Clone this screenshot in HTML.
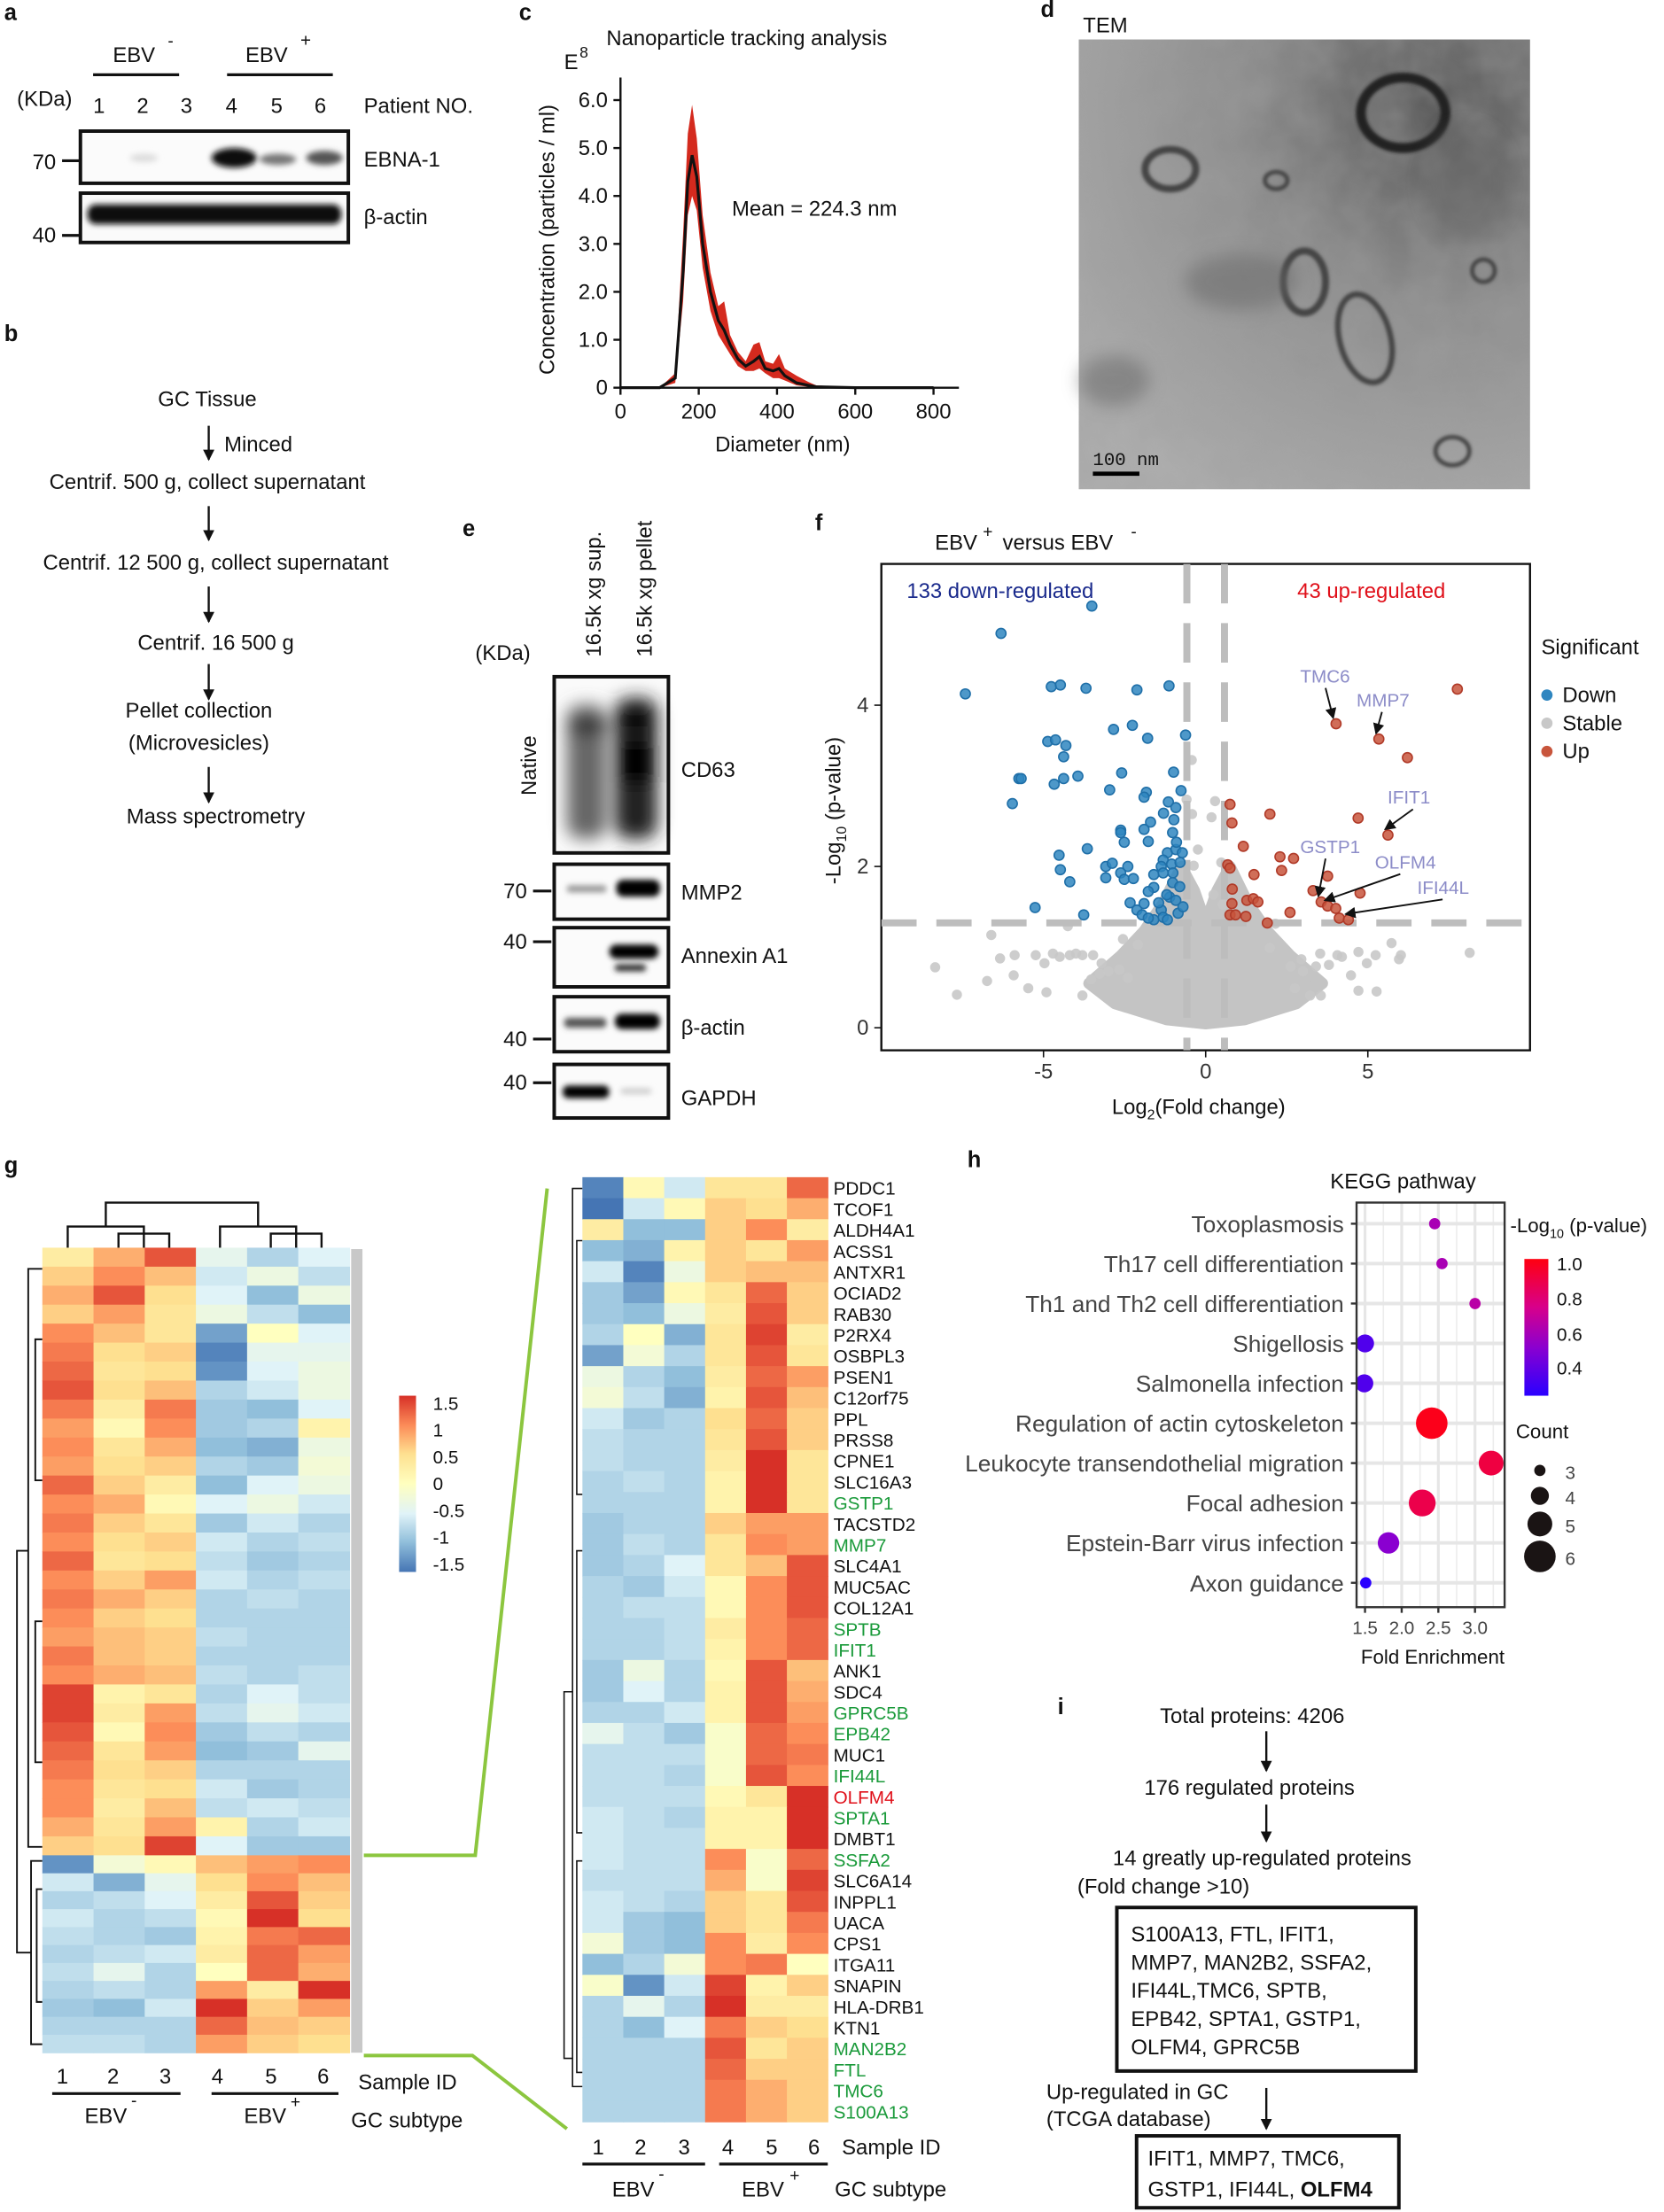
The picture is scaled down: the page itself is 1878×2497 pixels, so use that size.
<!DOCTYPE html>
<html><head><meta charset="utf-8">
<style>
html,body{margin:0;padding:0;background:#fff;}
svg{display:block;font-family:"Liberation Sans",Arial,sans-serif;}
text{fill:#111;}
</style></head>
<body>
<svg id="fig" width="1878" height="2497" viewBox="0 0 1180 1569" xmlns="http://www.w3.org/2000/svg">
<defs>
<filter id="blur2" x="-20%" y="-50%" width="140%" height="200%"><feGaussianBlur stdDeviation="2"/></filter>
<filter id="blur5" x="-30%" y="-30%" width="160%" height="160%"><feGaussianBlur stdDeviation="6"/></filter>
<filter id="blur1"><feGaussianBlur stdDeviation="1.2"/></filter>
<filter id="noise" x="0" y="0" width="100%" height="100%"><feTurbulence type="fractalNoise" baseFrequency="0.035" numOctaves="3" seed="4"/><feColorMatrix type="matrix" values="0 0 0 0 0.35  0 0 0 0 0.35  0 0 0 0 0.35  0 0 0 -1.2 0.9"/></filter>
<linearGradient id="pgrad" x1="0" y1="1" x2="0" y2="0">
<stop offset="0" stop-color="#2a00ff"/><stop offset="0.35" stop-color="#8a00d0"/><stop offset="0.65" stop-color="#d8008a"/><stop offset="1" stop-color="#ff0010"/></linearGradient>
<linearGradient id="hgrad" x1="0" y1="1" x2="0" y2="0">
<stop offset="0" stop-color="#4575b4"/><stop offset="0.17" stop-color="#91bfdb"/><stop offset="0.33" stop-color="#e0f3f8"/><stop offset="0.5" stop-color="#ffffbf"/><stop offset="0.67" stop-color="#fee090"/><stop offset="0.83" stop-color="#fc8d59"/><stop offset="1" stop-color="#d73027"/></linearGradient>
<radialGradient id="temg" cx="0.8" cy="0.15" r="1.0"><stop offset="0" stop-color="#5a5a5a"/><stop offset="0.45" stop-color="#8e8e8e"/><stop offset="1" stop-color="#adadad"/></radialGradient>
<marker id="arr" markerWidth="8" markerHeight="8" refX="7" refY="4" orient="auto" markerUnits="userSpaceOnUse"><path d="M0,0 L8,4 L0,8 z" fill="#111"/></marker>
</defs>

<!-- Panel a -->
<g font-size="15">
<text x="3" y="14" font-weight="bold" font-size="16">a</text>
<text x="80" y="44">EBV</text><text x="119" y="33" font-size="12">-</text>
<line x1="66" y1="53" x2="127" y2="53" stroke="#111" stroke-width="2"/>
<text x="174" y="44">EBV</text><text x="213" y="33" font-size="13">+</text>
<line x1="161" y1="53" x2="236" y2="53" stroke="#111" stroke-width="2"/>
<text x="12" y="75">(KDa)</text>
<text x="66" y="80">1</text><text x="97" y="80">2</text><text x="128" y="80">3</text><text x="160" y="80">4</text><text x="192" y="80">5</text><text x="223" y="80">6</text>
<text x="258" y="80">Patient NO.</text>
<rect x="57" y="93" width="190" height="37" fill="#fbfbfb" stroke="#111" stroke-width="2.5"/>
<g filter="url(#blur2)"><ellipse cx="166" cy="112" rx="16" ry="7" fill="#111"/><ellipse cx="197" cy="113" rx="13" ry="4" fill="#777"/><ellipse cx="230" cy="112" rx="13" ry="5" fill="#555"/><ellipse cx="102" cy="112" rx="10" ry="3" fill="#ddd"/></g>
<rect x="57" y="137" width="190" height="35" fill="#fafafa" stroke="#111" stroke-width="2.5"/>
<g filter="url(#blur2)"><rect x="62" y="145" width="180" height="14" rx="6" fill="#111"/></g>
<text x="23" y="120">70</text><line x1="44" y1="114" x2="57" y2="114" stroke="#111" stroke-width="2"/>
<text x="258" y="118">EBNA-1</text>
<text x="258" y="159">β-actin</text>
<text x="23" y="172">40</text><line x1="44" y1="167" x2="57" y2="167" stroke="#111" stroke-width="2"/>
</g>

<!-- Panel b -->
<g font-size="15" text-anchor="middle">
<text x="3" y="242" font-weight="bold" font-size="16" text-anchor="start">b</text>
<text x="147" y="288">GC Tissue</text>
<line x1="148" y1="302" x2="148" y2="326" stroke="#111" stroke-width="1.5" marker-end="url(#arr)"/>
<text x="159" y="320" text-anchor="start">Minced</text>
<text x="147" y="347">Centrif. 500 g, collect supernatant</text>
<line x1="148" y1="359" x2="148" y2="383" stroke="#111" stroke-width="1.5" marker-end="url(#arr)"/>
<text x="153" y="404">Centrif. 12 500 g, collect supernatant</text>
<line x1="148" y1="416" x2="148" y2="441" stroke="#111" stroke-width="1.5" marker-end="url(#arr)"/>
<text x="153" y="461">Centrif. 16 500 g</text>
<line x1="148" y1="471" x2="148" y2="496" stroke="#111" stroke-width="1.5" marker-end="url(#arr)"/>
<text x="141" y="509">Pellet collection</text>
<text x="141" y="532">(Microvesicles)</text>
<line x1="148" y1="544" x2="148" y2="569" stroke="#111" stroke-width="1.5" marker-end="url(#arr)"/>
<text x="153" y="584">Mass spectrometry</text>
</g>

<!-- Panel c -->
<g id="ntaChart" font-size="15">
<text x="368" y="14" font-weight="bold" font-size="16">c</text>
<text x="430" y="32">Nanoparticle tracking analysis</text>
<text x="400" y="49">E</text><text x="411" y="41" font-size="11">8</text>
<text x="519" y="153">Mean = 224.3 nm</text>
<text x="555" y="320" text-anchor="middle">Diameter (nm)</text>
<text transform="translate(393,170) rotate(-90)" text-anchor="middle">Concentration (particles / ml)</text>
</g>

<!-- Panel d -->
<g font-size="15">
<text x="738" y="12" font-weight="bold" font-size="16">d</text>
<text x="768" y="23">TEM</text>
<rect x="765" y="28" width="320" height="319" fill="url(#temg)"/>
<rect x="765" y="28" width="320" height="319" filter="url(#noise)" opacity="0.55"/>
<g filter="url(#blur1)" fill="none" stroke="#444">
<ellipse cx="830" cy="120" rx="18" ry="14" stroke-width="5"/>
<ellipse cx="925" cy="200" rx="15" ry="22" stroke-width="5"/>
<ellipse cx="968" cy="240" rx="18" ry="32" stroke-width="4" transform="rotate(-15 968 240)"/>
<ellipse cx="995" cy="80" rx="30" ry="25" stroke="#222" stroke-width="7"/>
<ellipse cx="1030" cy="320" rx="12" ry="10" stroke-width="3"/>
<ellipse cx="1052" cy="192" rx="8" ry="8" stroke-width="3"/>
<ellipse cx="905" cy="128" rx="8" ry="6" stroke-width="3"/>
</g>
<g filter="url(#blur5)" fill="#666" opacity="0.5"><ellipse cx="880" cy="200" rx="40" ry="20"/><ellipse cx="1040" cy="130" rx="30" ry="40"/><ellipse cx="790" cy="270" rx="25" ry="18"/></g>
<text x="775" y="330" font-family="Liberation Mono,monospace" font-size="13">100 nm</text>
<line x1="775" y1="336" x2="808" y2="336" stroke="#000" stroke-width="3"/>
</g>

<!-- Panel e -->
<g font-size="15">
<text x="328" y="380" font-weight="bold" font-size="16">e</text>
<text transform="translate(426,466) rotate(-90)">16.5k xg sup.</text>
<text transform="translate(462,466) rotate(-90)">16.5k xg pellet</text>
<text x="337" y="468">(KDa)</text>
<text transform="translate(380,543) rotate(-90)" text-anchor="middle">Native</text>
<rect x="393" y="480" width="81" height="125" fill="#fafafa" stroke="#111" stroke-width="2.5"/>
<g filter="url(#blur5)"><rect x="402" y="500" width="28" height="95" rx="10" fill="#666"/><rect x="436" y="495" width="30" height="100" rx="10" fill="#222"/><rect x="404" y="510" width="26" height="10" fill="#222"/><rect x="437" y="505" width="28" height="12" fill="#000"/><rect x="438" y="525" width="26" height="30" fill="#000"/></g>
<text x="483" y="551">CD63</text>
<rect x="393" y="613" width="81" height="39" fill="#fbfbfb" stroke="#111" stroke-width="2.5"/>
<g filter="url(#blur2)"><rect x="402" y="628" width="28" height="5" rx="2" fill="#999"/><rect x="437" y="624" width="31" height="12" rx="5" fill="#000"/></g>
<text x="483" y="638">MMP2</text>
<text x="357" y="637">70</text><line x1="378" y1="632" x2="391" y2="632" stroke="#111" stroke-width="2"/>
<rect x="393" y="658" width="81" height="42" fill="#fbfbfb" stroke="#111" stroke-width="2.5"/>
<g filter="url(#blur2)"><rect x="432" y="670" width="35" height="10" rx="5" fill="#000"/><rect x="436" y="684" width="22" height="5" rx="2" fill="#333"/></g>
<text x="483" y="683">Annexin A1</text>
<text x="357" y="673">40</text><line x1="378" y1="668" x2="391" y2="668" stroke="#111" stroke-width="2"/>
<rect x="393" y="707" width="81" height="39" fill="#fbfbfb" stroke="#111" stroke-width="2.5"/>
<g filter="url(#blur2)"><rect x="400" y="722" width="30" height="7" rx="3" fill="#555"/><rect x="436" y="719" width="32" height="11" rx="5" fill="#000"/></g>
<text x="483" y="734">β-actin</text>
<text x="357" y="742">40</text><line x1="378" y1="737" x2="391" y2="737" stroke="#111" stroke-width="2"/>
<rect x="393" y="755" width="81" height="38" fill="#fbfbfb" stroke="#111" stroke-width="2.5"/>
<g filter="url(#blur2)"><rect x="399" y="770" width="33" height="9" rx="4" fill="#000"/><rect x="440" y="772" width="22" height="4" rx="2" fill="#ccc"/></g>
<text x="483" y="784">GAPDH</text>
<text x="357" y="773">40</text><line x1="378" y1="768" x2="391" y2="768" stroke="#111" stroke-width="2"/>
</g>

<!-- Panel f -->
<g id="volcano" font-size="15">
<text x="578" y="376" font-weight="bold" font-size="16">f</text>
<text x="663" y="390">EBV</text><text x="697" y="381" font-size="12">+</text><text x="711" y="390">versus EBV</text><text x="802" y="381" font-size="12">-</text>
<rect x="625" y="400" width="460" height="345" fill="#fff" stroke="#111" stroke-width="1.5"/>
<text x="643" y="424" style="fill:#1a2a8c">133 down-regulated</text>
<text x="920" y="424" style="fill:#e0101a">43 up-regulated</text>
<text x="850" y="790" text-anchor="middle">Log<tspan font-size="10" dy="4">2</tspan><tspan dy="-4">(Fold change)</tspan></text>
<text transform="translate(596,575) rotate(-90)" text-anchor="middle">-Log<tspan font-size="10" dy="4">10</tspan><tspan dy="-4"> (p-value)</tspan></text>
<g>
<text x="1093" y="464">Significant</text>
<circle cx="1097" cy="493" r="4" fill="#2f86c0"/><text x="1108" y="498">Down</text>
<circle cx="1097" cy="513" r="4" fill="#c8c8c8"/><text x="1108" y="518">Stable</text>
<circle cx="1097" cy="533" r="4" fill="#c8553c"/><text x="1108" y="538">Up</text>
</g>
</g>

<!-- Panel g -->
<g id="heatG" font-size="15">
<text x="3" y="832" font-weight="bold" font-size="16">g</text>
<g fill="none" stroke="#111" stroke-width="1.5">
<path d="M48,885 V870 H102 V885"/><path d="M84,885 V875 H120 V885"/><path d="M156,885 V870 H210 V885"/><path d="M192,885 V875 H228 V885"/>
<path d="M75,870 V853 H183 V870"/>
</g>
<g fill="none" stroke="#111" stroke-width="1.2">
<path d="M30,900 H20 V1310 H30"/><path d="M30,1320 H22 V1450 H30"/><path d="M20,1100 H12 V1385 H22"/>
<path d="M30,950 H25 V1050 H30 M30,1150 H25 V1250 H30 M30,1340 H26 V1420 H30"/>
</g>
<rect x="249" y="886" width="8" height="570" fill="#c8c8c8"/>
<rect x="283" y="990" width="12" height="125" fill="url(#hgrad)"/>
<g font-size="13"><text x="307" y="1000">1.5</text><text x="307" y="1019">1</text><text x="307" y="1038">0.5</text><text x="307" y="1057">0</text><text x="307" y="1076">-0.5</text><text x="307" y="1095">-1</text><text x="307" y="1114">-1.5</text></g>
<g font-size="15"><text x="40" y="1478">1</text><text x="76" y="1478">2</text><text x="113" y="1478">3</text><text x="150" y="1478">4</text><text x="188" y="1478">5</text><text x="225" y="1478">6</text></g>
<text x="254" y="1482">Sample ID</text>
<line x1="37" y1="1485" x2="128" y2="1485" stroke="#111" stroke-width="2"/>
<line x1="150" y1="1485" x2="240" y2="1485" stroke="#111" stroke-width="2"/>
<text x="60" y="1506">EBV</text><text x="93" y="1494" font-size="12">-</text>
<text x="173" y="1506">EBV</text><text x="206" y="1495" font-size="12">+</text>
<text x="249" y="1509">GC subtype</text>
<path d="M258,1316 H337 L388,843" fill="none" stroke="#8cc63f" stroke-width="2.5"/>
<path d="M258,1458 H335 L402,1510" fill="none" stroke="#8cc63f" stroke-width="2.5"/>
<g fill="none" stroke="#111" stroke-width="1">
<path d="M413,843 H406 V1480 H413"/><path d="M406,1200 H400 V1460 H406"/><path d="M413,880 H409 V1060 H413 M413,1100 H409 V1300 H413 M413,1320 H409 V1470 H413"/>
</g>
<g font-size="15"><text x="420" y="1528">1</text><text x="450" y="1528">2</text><text x="481" y="1528">3</text><text x="512" y="1528">4</text><text x="543" y="1528">5</text><text x="573" y="1528">6</text></g>
<text x="597" y="1528">Sample ID</text>
<line x1="413" y1="1535" x2="500" y2="1535" stroke="#111" stroke-width="2"/>
<line x1="510" y1="1535" x2="587" y2="1535" stroke="#111" stroke-width="2"/>
<text x="434" y="1558">EBV</text><text x="467" y="1546" font-size="12">-</text>
<text x="526" y="1558">EBV</text><text x="560" y="1547" font-size="12">+</text>
<text x="592" y="1558">GC subtype</text>
</g>

<!-- Panel h -->
<g id="kegg" font-size="15">
<text x="686" y="828" font-weight="bold" font-size="16">h</text>
<text x="995" y="843" text-anchor="middle">KEGG pathway</text>
<text x="1016" y="1180" text-anchor="middle" font-size="14">Fold Enrichment</text>
<rect x="1081" y="893" width="17" height="97" fill="url(#pgrad)"/>
<g font-size="13" style="fill:#444"><text x="1104" y="901">1.0</text><text x="1104" y="926">0.8</text><text x="1104" y="951">0.6</text><text x="1104" y="975">0.4</text></g>
<text x="1071" y="874" font-size="14">-Log<tspan font-size="9" dy="4">10</tspan><tspan dy="-4"> (p-value)</tspan></text>
<text x="1075" y="1020" font-size="14">Count</text>
</g>

<!-- Panel i -->
<g font-size="15">
<text x="750" y="1216" font-weight="bold" font-size="16">i</text>
<text x="888" y="1222" text-anchor="middle">Total proteins: 4206</text>
<line x1="898" y1="1228" x2="898" y2="1256" stroke="#111" stroke-width="1.5" marker-end="url(#arr)"/>
<text x="886" y="1273" text-anchor="middle">176 regulated proteins</text>
<line x1="898" y1="1280" x2="898" y2="1306" stroke="#111" stroke-width="1.5" marker-end="url(#arr)"/>
<text x="895" y="1323" text-anchor="middle">14 greatly up-regulated proteins</text>
<text x="764" y="1343">(Fold change &gt;10)</text>
<rect x="792" y="1353" width="212" height="116" fill="none" stroke="#111" stroke-width="2.5"/>
<text x="802" y="1377">S100A13, FTL, IFIT1,</text>
<text x="802" y="1397">MMP7, MAN2B2, SSFA2,</text>
<text x="802" y="1417">IFI44L,TMC6, SPTB,</text>
<text x="802" y="1437">EPB42, SPTA1, GSTP1,</text>
<text x="802" y="1457">OLFM4, GPRC5B</text>
<text x="742" y="1489">Up-regulated in GC</text>
<text x="742" y="1508">(TCGA database)</text>
<line x1="898" y1="1481" x2="898" y2="1510" stroke="#111" stroke-width="1.5" marker-end="url(#arr)"/>
<rect x="806" y="1515" width="186" height="51" fill="none" stroke="#111" stroke-width="2.5"/>
<text x="814" y="1536">IFIT1, MMP7, TMC6,</text>
<text x="814" y="1558">GSTP1, IFI44L, <tspan font-weight="bold">OLFM4</tspan></text>
</g>
</svg>

<script>
const NS='http://www.w3.org/2000/svg';
function mk(tag,attrs,parent){const e=document.createElementNS(NS,tag);for(const k in attrs)e.setAttribute(k,attrs[k]);parent.appendChild(e);return e;}

// ===== NTA chart data =====
const ntaDiam=[0,100,140,160,172,183,195,210,230,250,265,280,300,320,340,355,370,390,405,420,450,480,500,600,800];
const ntaMean=[0,0,0.2,2.4,4.3,4.85,4.4,3.0,2.0,1.4,1.2,0.9,0.6,0.45,0.55,0.65,0.4,0.35,0.4,0.25,0.1,0.05,0.02,0,0];
const ntaUpper=[0,0,0.3,3.2,5.3,5.9,5.2,3.6,2.4,1.7,1.8,1.1,0.75,0.55,0.9,0.95,0.55,0.5,0.7,0.4,0.25,0.12,0.05,0,0];
const ntaLower=[0,0,0.1,1.8,3.6,4.0,3.7,2.5,1.6,1.1,0.9,0.7,0.45,0.35,0.35,0.4,0.3,0.2,0.2,0.15,0.05,0.02,0,0,0];
const ntaXTicks=[0,200,400,600,800];
const ntaYTicks=[0,1,2,3,4,5,6];
(function(){
 const g=document.getElementById('ntaChart');
 const X=v=>440+v*(222/800), Y=v=>275-v*34;
 let up=ntaDiam.map((d,i)=>X(d)+','+Y(ntaUpper[i]));
 let lo=ntaDiam.map((d,i)=>X(d)+','+Y(ntaLower[i])).reverse();
 const band=mk('polygon',{points:up.concat(lo).join(' '),fill:'#d42a1e'},g);
 
 
 const line=mk('polyline',{points:ntaDiam.map((d,i)=>X(d)+','+Y(ntaMean[i])).join(' '),fill:'none',stroke:'#111','stroke-width':2},g);
 
 
 mk('line',{x1:440,y1:55,x2:440,y2:275,stroke:'#111','stroke-width':1.5},g);
 mk('line',{x1:440,y1:275,x2:680,y2:275,stroke:'#111','stroke-width':1.5},g);
 ntaXTicks.forEach(t=>{mk('line',{x1:X(t),y1:275,x2:X(t),y2:280,stroke:'#111','stroke-width':1.5},g);
  const tx=mk('text',{x:X(t),y:297,'text-anchor':'middle'},g);tx.textContent=t;
  
  });
 ntaYTicks.forEach(t=>{mk('line',{x1:435,y1:Y(t),x2:440,y2:Y(t),stroke:'#111','stroke-width':1.5},g);
  const tx=mk('text',{x:431,y:Y(t)+5,'text-anchor':'end'},g);tx.textContent=t===0?'0':t.toFixed(1);
  
  });
})();

// ===== Volcano data =====
const downX=[-3.51,-6.31,-7.41,-4.76,-4.48,-3.69,-2.12,-1.13,-2.84,-2.26,-1.79,-0.62,-4.87,-4.63,-4.31,-4.38,-5.76,-5.69,-4.67,-4.38,-3.94,-2.59,-0.99,-5.96,-2.96,-1.83,-1.90,-0.76,-1.15,-0.92,-1.30,-0.98,-1.70,-2.62,-1.90,-2.62,-2.51,-1.77,-1.02,-3.65,-4.52,-4.48,-4.19,-3.08,-2.88,-2.40,-2.62,-3.08,-2.51,-2.23,-1.18,-0.92,-0.72,-1.31,-1.05,-0.79,-1.37,-1.60,-1.31,-1.01,-1.02,-1.60,-1.77,-1.11,-0.92,-2.33,-1.90,-1.37,-2.12,-1.96,-1.60,-1.31,-0.85,-5.26,-3.76,-1.77,-1.18,-0.80,-0.70,-1.20,-0.90,-1.45];
const downY=[5.23,4.89,4.14,4.23,4.25,4.21,4.19,4.24,3.70,3.75,3.59,3.63,3.55,3.57,3.50,3.36,3.09,3.09,3.02,3.09,3.12,3.16,3.17,2.78,2.95,2.92,2.86,2.94,2.80,2.73,2.66,2.58,2.55,2.45,2.46,2.42,2.30,2.31,2.42,2.22,2.14,1.96,1.81,2.00,2.04,2.00,1.92,1.86,1.84,1.85,2.17,2.21,2.17,2.08,2.03,2.05,2.00,1.90,1.92,1.92,1.80,1.74,1.69,1.62,1.58,1.55,1.54,1.46,1.46,1.40,1.34,1.37,1.42,1.49,1.40,1.36,1.34,1.75,1.50,1.65,2.30,1.55];
const upX=[7.76,4.02,5.34,6.22,0.75,1.98,0.81,4.70,5.62,1.16,2.29,2.71,0.68,0.75,2.34,1.49,3.76,0.82,3.31,4.76,3.56,3.76,4.01,4.12,4.40,1.27,1.47,1.61,0.81,0.75,0.92,1.24,1.90,2.60];
const upY=[4.20,3.77,3.58,3.35,2.77,2.65,2.54,2.60,2.39,2.25,2.12,2.10,2.02,1.98,1.95,1.90,1.88,1.72,1.70,1.67,1.56,1.51,1.48,1.36,1.34,1.58,1.60,1.56,1.54,1.40,1.40,1.38,1.30,1.43];
const stableX=[-8.34,-7.67,-6.61,-6.74,-6.34,-5.92,-5.89,-5.47,-5.24,-4.97,-4.91,-4.71,-4.25,-4.19,-3.80,-3.80,-3.47,-3.21,-2.66,-3.27,-3.53,-2.55,-2.09,5.73,8.14,6.02,5.24,4.71,4.06,3.53,2.95,4.71,5.27,4.48,3.55,3.22,2.62,1.98,2.15,3.40,2.75,4.97,5.96,-0.43,-0.59,0.29,-0.42,0.18,-0.24,-0.37,0.48,0.24,0.52,-4.5,-4.0,-3.0,-2.4,3.0,3.8,4.2];
const stableY=[0.75,0.41,1.15,0.58,0.86,0.65,0.90,0.49,0.90,0.80,0.44,0.92,1.26,0.90,0.90,0.40,0.90,0.80,0.72,0.67,0.60,1.10,1.03,1.05,0.93,0.90,0.90,0.94,0.90,0.92,0.85,0.46,0.45,0.65,0.40,0.40,0.76,0.99,1.29,0.76,0.49,0.80,0.85,3.32,2.83,2.81,2.65,2.61,2.21,2.01,2.05,1.65,1.53,0.88,0.92,0.70,0.62,0.70,0.78,0.88];
const cloudX=[-3.6,-2.6,-1.9,-1.3,-0.75,-0.35,0,0.35,0.75,1.3,1.9,2.6,3.6,2.8,1.2,0,-1.2,-2.8];
const cloudY=[0.55,0.9,1.2,1.55,2.0,1.7,1.3,1.7,2.0,1.55,1.2,0.9,0.55,0.3,0.1,0.05,0.1,0.3];
const volXTicks=[-5,0,5];
const volYTicks=[0,2,4];
const volLabels=[['TMC6',4.02,3.77,922,484],['MMP7',5.34,3.58,962,501],['IFIT1',5.62,2.39,984,570],['GSTP1',3.56,1.56,922,605],['OLFM4',3.76,1.51,975,616],['IFI44L',4.40,1.34,1005,634]];
(function(){
 const g=document.getElementById('volcano');
 const X=v=>855+v*23, Y=v=>729-v*57.2;
 const clip=mk('clipPath',{id:'vclip'},g);mk('rect',{x:625,y:400,width:460,height:345},clip);
 const pg=mk('g',{'clip-path':'url(#vclip)'},g);
 const cl=mk('polygon',{points:cloudX.map((x,i)=>X(x)+','+Y(cloudY[i])).join(' '),fill:'#c4c4c4',stroke:'#c4c4c4','stroke-width':8,'stroke-linejoin':'round'},pg);
 
 
 stableX.forEach((x,i)=>{const c=mk('circle',{cx:X(x),cy:Y(stableY[i]),r:3.6,fill:'#c8c8c8','fill-opacity':0.9},pg);
  
  });
 [-0.58,0.58].forEach(v=>mk('line',{x1:X(v),y1:400,x2:X(v),y2:745,stroke:'#bdbdbd','stroke-width':5,'stroke-dasharray':'28 14'},pg));
 mk('line',{x1:625,y1:Y(1.3),x2:1085,y2:Y(1.3),stroke:'#bdbdbd','stroke-width':5,'stroke-dasharray':'25 14'},pg);
 downX.forEach((x,i)=>{const c=mk('circle',{cx:X(x),cy:Y(downY[i]),r:3.5,fill:'#2f86c0',stroke:'#1f6fa8','stroke-width':1,'fill-opacity':0.85},pg);
  
  });
 upX.forEach((x,i)=>{const c=mk('circle',{cx:X(x),cy:Y(upY[i]),r:3.5,fill:'#c8553c',stroke:'#b03a28','stroke-width':1,'fill-opacity':0.85},pg);
  
  });
 volLabels.forEach(l=>{const t=mk('text',{x:l[3],y:l[4],'font-size':13,style:'fill:#8c8cc8'},g);t.textContent=l[0];
  
  
  mk('line',{x1:l[3]+18,y1:l[4]+4,x2:X(l[1])-2,y2:Y(l[2])-4,stroke:'#111','stroke-width':1.2,'marker-end':'url(#arr)'},g);});
 volXTicks.forEach(t=>{mk('line',{x1:X(t),y1:745,x2:X(t),y2:750,stroke:'#111'},g);
  const tx=mk('text',{x:X(t),y:765,'text-anchor':'middle',style:'fill:#333'},g);tx.textContent=t;
  
  });
 volYTicks.forEach(t=>{mk('line',{x1:620,y1:Y(t),x2:625,y2:Y(t),stroke:'#111'},g);
  const tx=mk('text',{x:616,y:Y(t)+5,'text-anchor':'end',style:'fill:#333'},g);tx.textContent=t;
  
  });
})();

// ===== Heatmap data =====
const leftTop=[[0.3,0.8,1.3,-0.4,-0.8,-0.5],[0.6,1.0,0.7,-0.6,-0.3,-0.7],[0.8,1.3,0.5,-0.5,-1.0,-0.3],[0.6,0.9,0.4,-0.3,-0.7,-1.0],[1.0,0.7,0.4,-1.2,0.0,-0.5],[1.1,0.5,0.6,-1.4,-0.4,-0.4],[1.2,0.4,0.5,-1.3,-0.5,-0.3],[1.3,0.5,0.7,-0.8,-0.6,-0.3],[1.1,0.3,1.1,-0.9,-1.0,-0.5],[0.9,0.1,1.0,-0.9,-0.8,0.2],[1.0,0.4,0.8,-1.0,-1.1,-0.3],[0.9,0.5,0.6,-0.8,-0.9,-0.2],[1.2,0.6,0.3,-1.0,-0.5,-0.3],[1.0,0.8,0.1,-0.5,-0.3,-0.6],[1.1,0.6,0.4,-0.9,-0.6,-0.8],[1.0,0.5,0.6,-0.6,-0.8,-0.7],[1.2,0.4,0.5,-0.7,-0.9,-0.8],[1.0,0.6,0.9,-0.6,-0.8,-0.7],[1.1,0.8,0.6,-0.8,-0.7,-0.8],[1.0,0.6,0.5,-0.8,-0.8,-0.8],[0.9,0.7,0.6,-0.7,-0.8,-0.8],[1.1,0.7,0.6,-0.8,-0.8,-0.8],[1.0,0.8,0.7,-0.7,-0.8,-0.7],[1.4,0.2,0.4,-0.8,-0.5,-0.7],[1.4,0.3,0.9,-0.7,-0.4,-0.6],[1.3,0.1,1.0,-0.9,-0.7,-0.8],[1.2,0.4,0.9,-1.0,-0.9,-0.4],[1.1,0.5,0.6,-0.8,-0.8,-0.8],[1.0,0.4,0.5,-0.6,-0.9,-0.8],[1.0,0.3,0.7,-0.7,-0.6,-0.7],[0.8,0.4,0.9,0.2,-0.8,-0.6],[0.6,0.5,1.4,-0.5,-0.9,-0.9]];
const leftBottom=[[-1.3,-0.2,0.1,0.7,0.9,1.0],[-0.6,-1.1,-0.4,0.5,1.0,0.7],[-0.8,-0.7,-0.5,0.3,1.3,0.6],[-0.6,-0.8,-0.7,0.1,1.5,0.5],[-0.7,-0.8,-0.9,0.2,1.1,1.2],[-0.8,-0.7,-0.6,0.3,1.2,0.9],[-0.7,-0.4,-0.8,0.0,1.2,0.8],[-0.8,-0.7,-0.8,0.9,0.3,1.6],[-0.9,-1.0,-0.6,1.6,0.6,0.9],[-0.8,-0.8,-0.8,1.2,0.7,0.6],[-0.7,-0.7,-0.8,0.9,0.6,0.5]];
const rightGenes=['PDDC1','TCOF1','ALDH4A1','ACSS1','ANTXR1','OCIAD2','RAB30','P2RX4','OSBPL3','PSEN1','C12orf75','PPL','PRSS8','CPNE1','SLC16A3','GSTP1','TACSTD2','MMP7','SLC4A1','MUC5AC','COL12A1','SPTB','IFIT1','ANK1','SDC4','GPRC5B','EPB42','MUC1','IFI44L','OLFM4','SPTA1','DMBT1','SSFA2','SLC6A14','INPPL1','UACA','CPS1','ITGA11','SNAPIN','HLA-DRB1','KTN1','MAN2B2','FTL','TMC6','S100A13'];
const rightVals=[[-1.4,0.1,-0.6,0.4,0.4,1.2],[-1.6,-0.6,0.1,0.6,0.5,0.8],[0.3,-1.0,-1.0,0.6,1.0,0.3],[-1.0,-1.1,0.2,0.6,0.4,0.9],[-0.6,-1.4,-0.3,0.6,0.7,0.7],[-0.9,-1.2,0.1,0.4,1.2,0.6],[-0.9,-1.0,-0.3,0.3,1.3,0.6],[-0.8,0,-1.1,0.4,1.4,0.3],[-1.2,-0.2,-0.8,0.4,1.3,0.4],[-0.3,-0.8,-1.0,0.3,1.2,0.9],[-0.2,-0.7,-1.1,0.2,1.3,0.7],[-0.6,-0.9,-0.8,0.5,1.2,0.6],[-0.7,-0.8,-0.8,0.4,1.3,0.6],[-0.7,-0.8,-0.8,0.3,1.6,0.4],[-0.8,-0.7,-0.8,0.2,1.6,0.4],[-0.8,-0.8,-0.8,0.2,1.6,0.4],[-0.9,-0.8,-0.8,0.6,0.9,0.9],[-0.9,-0.7,-0.8,0.4,1.0,0.9],[-0.9,-0.8,-0.5,0.4,0.7,1.3],[-0.8,-0.9,-0.6,0.1,1.0,1.3],[-0.8,-0.7,-0.7,0.1,1.0,1.3],[-0.8,-0.8,-0.7,0.3,1.0,1.2],[-0.8,-0.8,-0.7,0.2,1.0,1.2],[-0.9,-0.3,-0.8,0.1,1.3,0.7],[-0.9,-0.5,-0.8,0.2,1.3,0.8],[-0.8,-0.8,-0.6,0.2,1.3,0.9],[-0.4,-0.7,-0.9,-0.1,1.2,1.0],[-0.7,-0.7,-0.7,-0.1,1.2,1.1],[-0.7,-0.7,-0.8,-0.1,1.3,1.0],[-0.7,-0.7,-0.7,0.1,0.4,1.6],[-0.6,-0.7,-0.8,0.2,0.2,1.6],[-0.6,-0.7,-0.7,0.2,0.2,1.7],[-0.6,-0.7,-0.7,1.0,-0.1,1.2],[-0.7,-0.7,-0.7,0.8,-0.1,1.4],[-0.6,-0.7,-0.8,0.6,0.4,1.3],[-0.6,-0.9,-1.0,0.6,0.4,1.1],[-0.2,-0.9,-1.0,1.0,0.3,1.0],[-1.0,-0.8,-0.2,1.0,1.1,0.0],[-0.1,-1.3,-0.6,1.4,0.2,0.6],[-0.8,-0.4,-0.8,1.7,0.3,0.3],[-0.8,-1.0,-0.5,1.1,0.6,0.5],[-0.8,-0.8,-0.8,1.3,0.4,0.6],[-0.8,-0.8,-0.8,1.2,0.6,0.6],[-0.8,-0.8,-0.8,1.1,0.8,0.6],[-0.8,-0.8,-0.8,1.1,0.8,0.6]];
const greenGenes=['GSTP1','MMP7','SPTB','IFIT1','GPRC5B','EPB42','IFI44L','SPTA1','SSFA2','MAN2B2','FTL','TMC6','S100A13'];
const redGenes=['OLFM4'];
const colorStops=[[-1.5,[69,117,180]],[-1,[145,191,219]],[-0.5,[224,243,248]],[0,[255,255,191]],[0.5,[254,224,144]],[1,[252,141,89]],[1.5,[215,48,39]]];
function hcol(v){v=Math.max(-1.5,Math.min(1.5,v));for(let i=0;i<colorStops.length-1;i++){const a=colorStops[i],b=colorStops[i+1];if(v<=b[0]){const t=(v-a[0])/(b[0]-a[0]);const c=a[1].map((x,j)=>Math.round(x+(b[1][j]-x)*t));return 'rgb('+c.join(',')+')';}}return 'rgb(215,48,39)';}
(function(){
 const g=document.getElementById('heatG');
 function draw(rows,x0,w,y0,y1,name){const h=(y1-y0)/rows.length;
  rows.forEach((r,i)=>r.forEach((v,j)=>{const c=mk('rect',{x:x0+j*w,y:y0+i*h,width:w+0.4,height:h+0.4,fill:hcol(v)},g);
   
   }));}
 draw(leftTop,30,36.3,885,1316,'heatmap-cell');
 draw(leftBottom,30,36.3,1316,1456,'heatmap-cell');
 draw(rightVals,413,29,835,1505,'zoom-heatmap-cell');
 const rh=670/rightGenes.length;
 rightGenes.forEach((n,i)=>{const col=redGenes.includes(n)?'#e0101a':(greenGenes.includes(n)?'#1a9a3a':'#111');
  const t=mk('text',{x:591,y:835+i*rh+rh/2+5,'font-size':13,style:'fill:'+col},g);t.textContent=n;
  
  });
})();

// ===== KEGG data =====
const keggPaths=['Toxoplasmosis','Th17 cell differentiation','Th1 and Th2 cell differentiation','Shigellosis','Salmonella infection','Regulation of actin cytoskeleton','Leukocyte transendothelial migration','Focal adhesion','Epstein-Barr virus infection','Axon guidance'];
const keggFold=[2.45,2.55,3.0,1.5,1.49,2.41,3.22,2.28,1.82,1.51];
const keggP=[0.6,0.6,0.65,0.35,0.35,0.98,0.9,0.88,0.5,0.25];
const keggCount=[3,3,3,4,4,6,5,5.3,4.5,3];
const keggXTicks=[1.5,2.0,2.5,3.0];
const countLegend=[3,4,5,6];
(function(){
 const g=document.getElementById('kegg');
 const X=v=>968+(v-1.5)*52, Y=i=>868+i*28.3, R=c=>4+(c-3)*2.4;
 const pc=v=>{const t=Math.max(0,Math.min(1,(v-0.25)/0.75));const s=[[42,0,255],[138,0,208],[216,0,138],[255,0,16]];const k=Math.min(2,Math.floor(t*3));const f=t*3-k;const c=s[k].map((x,j)=>Math.round(x+(s[k+1][j]-x)*f));return 'rgb('+c.join(',')+')';};
 mk('rect',{x:962,y:853,width:105,height:287,fill:'#fff'},g);
 const clip=mk('clipPath',{id:'kclip'},g);mk('rect',{x:962,y:853,width:105,height:287},clip);
 const pg=mk('g',{'clip-path':'url(#kclip)'},g);
 [1.25,1.75,2.25,2.75,3.25].forEach(v=>mk('line',{x1:X(v),y1:853,x2:X(v),y2:1140,stroke:'#ececec','stroke-width':1},pg));
 keggXTicks.forEach(v=>mk('line',{x1:X(v),y1:853,x2:X(v),y2:1140,stroke:'#e6e6e6','stroke-width':2},pg));
 keggPaths.forEach((p,i)=>{mk('line',{x1:962,y1:Y(i),x2:1067,y2:Y(i),stroke:'#e6e6e6','stroke-width':2.5},pg);
  const t=mk('text',{x:953,y:Y(i)+6,'text-anchor':'end','font-size':16.5,style:'fill:#444'},g);t.textContent=p;
  
  
  mk('line',{x1:958,y1:Y(i),x2:962,y2:Y(i),stroke:'#333','stroke-width':1.5},g);});
 keggFold.forEach((f,i)=>{const c=mk('circle',{cx:X(f),cy:Y(i),r:R(keggCount[i]),fill:pc(keggP[i])},pg);
  
  });
 mk('rect',{x:962,y:853,width:105,height:287,fill:'none',stroke:'#333','stroke-width':1.5},g);
 keggXTicks.forEach(v=>{mk('line',{x1:X(v),y1:1140,x2:X(v),y2:1144,stroke:'#333','stroke-width':1.5},g);
  const t=mk('text',{x:X(v),y:1159,'text-anchor':'middle','font-size':13,style:'fill:#444'},g);t.textContent=v.toFixed(1);
  
  });
 countLegend.forEach((c,i)=>{const yy=[1043,1061,1081,1104][i];
  const cc=mk('circle',{cx:1092,cy:yy,r:R(c),fill:'#1a1414'},g);
  
  
  const t=mk('text',{x:1110,y:yy+6,'font-size':13,style:'fill:#444'},g);t.textContent=c;});
})();
</script>
</body></html>
